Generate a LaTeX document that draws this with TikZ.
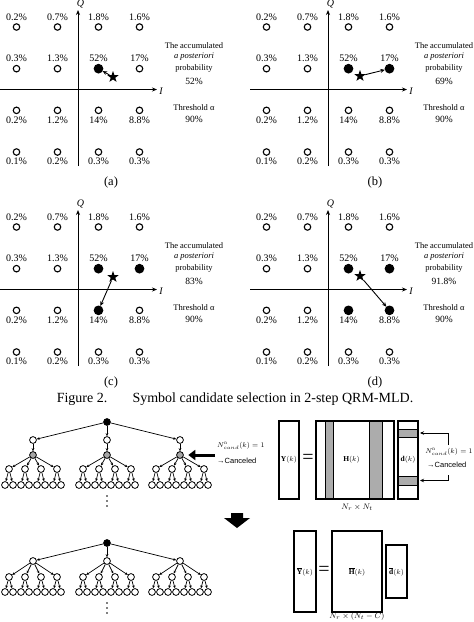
\documentclass[tikz,border=0pt]{standalone}
\usepackage{fontspec}
\setmainfont{Liberation Serif}
\newfontfamily\sansf{Liberation Sans}
\usetikzlibrary{shapes.geometric,arrows.meta}
\newcommand{\qampanel}[9]{%
\begin{scope}[shift={(#2,#3)},#7]
 \coordinate (#1-qb) at (78,166);
 \coordinate (#1-qt) at (78,10);
 \draw[axis] (#1-qb) -- (#1-qt);
 \coordinate (#1-il) at (0,89.5);
 \coordinate (#1-ir) at (157,89.5);
 \draw[axis] (#1-il) -- (#1-ir);
 \node[pct,font=\fontsize{10}{12}\selectfont\itshape] (#1-Q) at (80.5,4) {Q};
 \node[pct,font=\fontsize{10}{12}\selectfont\itshape] (#1-I) at (161,91) {I};
 \foreach \r/\c/\t in {1/1/0.2,1/2/0.7,1/3/1.8,1/4/1.6,2/1/0.3,2/2/1.3,2/3/52,2/4/17,3/1/0.2,3/2/1.2,3/3/14,3/4/8.8,4/1/0.1,4/2/0.2,4/3/0.3,4/4/0.3}{
   \pgfmathsetmacro\px{16.5+41*(\c-1)}
   \pgfmathsetmacro\py{27+41.67*(\r-1)}
   \pgfmathsetmacro\ly{\r<3 ? \py-10 : \py+9.5}
   \node[opt,p\r\c/.try] (#1-p\r\c) at (\px,\py) {};
   \node[pct] (#1-l\r\c) at (\px,\ly) {\t\%};
 }
 \node[starnode] (#1-star) at (#8) {};
 \draw[selarr] (#1-star) -- (#1-#9);
 \node[side] (#1-t1) at (194,46) {The accumulated};
 \node[side,font=\fontsize{8.5}{10}\selectfont\itshape] (#1-t2) at (194,57) {a posteriori};
 \node[side] (#1-t3) at (194,68) {probability};
 \node[side,font=\fontsize{9.5}{11}\selectfont] (#1-t4) at (194,81) {#6\%};
 \node[side] (#1-t5) at (194,108) {Threshold α};
 \node[side,font=\fontsize{9.5}{11}\selectfont] (#1-t6) at (194,119) {90\%};
 \node[sub] (#1-cap) at (#5,182) {(#4)};
\end{scope}}
\begin{document}
\begin{tikzpicture}[x=1pt,y=-1pt,
  axis/.style={line width=0.9pt,-{Stealth[length=5pt,width=4pt]}},
  opt/.style={circle,draw,line width=1.1pt,minimum size=6.5pt,inner sep=0pt,fill=white},
  fulldot/.style={fill=black,minimum size=8.5pt},
  pct/.style={inner sep=0pt,font=\fontsize{10}{12}\selectfont},
  side/.style={inner sep=0pt,font=\fontsize{8.5}{10}\selectfont},
  sub/.style={inner sep=0pt,font=\fontsize{12.5}{14}\selectfont},
  starnode/.style={star,star points=5,star point ratio=2.5,fill=black,minimum size=12pt,inner sep=0pt},
  selarr/.style={line width=0.9pt,-{Stealth[length=4.5pt,width=4pt]}},
  tn/.style={circle,draw,line width=0.8pt,minimum size=6.8pt,inner sep=0pt,fill=white},
  tgray/.style={fill=gray!70},
  tblack/.style={fill=black},
  tarr/.style={line width=0.7pt,-{Stealth[length=3pt,width=2.6pt]}},
  mbox/.style={draw,line width=1.6pt,inner sep=0pt},
  mlab/.style={inner sep=0pt,font=\fontsize{7.5}{9}\selectfont},
  grayblk/.style={draw,line width=1pt,fill=gray!65,inner sep=0pt},
  vdot/.style={circle,fill=black,inner sep=0pt,minimum size=1.8pt},
  bracket/.style={line width=0.7pt,-{Stealth[length=4pt,width=3.5pt]}},
 ]
\useasboundingbox (0,0) rectangle (474,622);
\fill[white] (0,0) rectangle (474,622);

\qampanel{a}{0}{0}{a}{111}{52}{p23/.style={fulldot}}{113,77}{p23}
\qampanel{b}{250}{0}{b}{125}{69}{p23/.style={fulldot},p24/.style={fulldot}}{110,76}{p24}
\qampanel{c}{0}{200}{c}{111}{83}{p23/.style={fulldot},p24/.style={fulldot},p33/.style={fulldot}}{113,77}{p33}
\qampanel{d}{250}{200}{d}{125}{91.8}{p23/.style={fulldot},p24/.style={fulldot},p33/.style={fulldot},p34/.style={fulldot}}{110,76}{p34}

\node[inner sep=0pt,font=\fontsize{14}{16}\selectfont] (caption) at (235,399) {Figure 2.\hspace{1.8em}Symbol candidate selection in 2-step QRM-MLD.};

% tree 1
\node[tn,tblack] (t1r) at (107,422) {};
\foreach \g/\gx in {1/33,2/107,3/180}{
  \node[tn] (t1a\g) at (\gx,440) {};
  \draw[tarr] (t1r) -- (t1a\g);
  \node[tn,tgray] (t1b\g) at (\gx,455) {};
  \draw[tarr] (t1a\g) -- (t1b\g);
  \foreach \i/\dx in {1/-24,2/-8,3/8,4/24}{
    \node[tn] (t1c\g\i) at (\gx+\dx,469) {};
    \draw[tarr] (t1b\g) -- (t1c\g\i);
    \foreach \j/\ex in {1/-4,2/4}{
      \node[tn] (t1d\g\i\j) at (\gx+\dx+\ex,485) {};
      \draw[tarr] (t1c\g\i) -- (t1d\g\i\j);
    }
  }
}
\foreach \k/\yy in {1/496,2/501,3/506}{\node[vdot] (vd1\k) at (107,\yy) {};}

% tree 2
\node[tn,tblack] (t2r) at (107,543) {};
\foreach \g/\gx in {1/33,2/107,3/180}{
  \node[tn] (t2a\g) at (\gx,561) {};
  \draw[tarr] (t2r) -- (t2a\g);
  \foreach \i/\dx in {1/-24,2/-8,3/8,4/24}{
    \node[tn] (t2c\g\i) at (\gx+\dx,577) {};
    \draw[tarr] (t2a\g) -- (t2c\g\i);
    \foreach \j/\ex in {1/-4,2/4}{
      \node[tn] (t2d\g\i\j) at (\gx+\dx+\ex,592) {};
      \draw[tarr] (t2c\g\i) -- (t2d\g\i\j);
    }
  }
}
\foreach \k/\yy in {1/603,2/608,3/613}{\node[vdot] (vd2\k) at (107,\yy) {};}

% thick arrow into gray node
\coordinate (bigA) at (215,455);
\draw[line width=3pt,-{Triangle[length=7pt,width=10pt]},shorten >=4.5pt] (bigA) -- (t1b3);
\node[anchor=west,inner sep=0pt,font=\fontsize{7}{8}\selectfont] (ann1) at (217,446) {$N^{\mathrm{n}}_{cand}(k)=1$};
\node[anchor=west,inner sep=0pt,font=\sansf\fontsize{7.5}{9}\selectfont] (ann2) at (217,460.5) {→Canceled};

% top matrix equation
\node[mbox,minimum width=20pt,minimum height=78pt] (Ybox) at (289,460) {};
\node[mlab] (Ylab) at (289,460) {$\mathbf{Y}(k)$};
\node[inner sep=0pt,font=\fontsize{20}{20}\selectfont] (eq1) at (308,459) {=};
\node[grayblk,minimum width=8pt,minimum height=78pt] (Hg1) at (329,460) {};
\node[grayblk,minimum width=13pt,minimum height=78pt] (Hg2) at (375.5,460) {};
\node[mbox,minimum width=78pt,minimum height=78pt] (Hbox) at (355,460) {};
\node[mlab] (Hlab) at (351.5,460) {$\mathbf{H}(k)$};
\node[grayblk,minimum width=20pt,minimum height=8pt] (dg1) at (408,433) {};
\node[grayblk,minimum width=20pt,minimum height=9pt] (dg2) at (408,480.5) {};
\node[mbox,minimum width=20pt,minimum height=78pt] (dbox) at (408,460) {};
\node[mlab] (dlab) at (408,460) {$\mathbf{d}(k)$};
\coordinate (cA1) at (448,445);
\coordinate (cA3) at (448,475);
\draw[bracket,shorten >=1.5pt] (cA1) |- (dg1.east);
\draw[bracket,shorten >=1.5pt] (cA3) |- (dg2.east);
\node[inner sep=0pt,font=\fontsize{7}{8}\selectfont] (ann3) at (449,452) {$N^{\mathrm{n}}_{cand}(k)=1$};
\node[anchor=west,inner sep=0pt,font=\sansf\fontsize{7.5}{9}\selectfont] (ann4) at (427,465) {→Canceled};
\node[inner sep=0pt,font=\fontsize{8}{9}\selectfont] (dim1) at (357,507) {$N_r\times N_t$};

% down arrow
\fill (231,513) -- (243,513) -- (243,518) -- (250,518) -- (237,528) -- (224,518) -- (231,518) -- cycle;

% bottom matrix equation
\node[mbox,line width=2pt,minimum width=22pt,minimum height=81pt] (Ybbox) at (305,571.5) {};
\node[mlab] (Yblab) at (305,572) {$\overline{\mathbf{Y}}(k)$};
\node[inner sep=0pt,font=\fontsize{20}{20}\selectfont] (eq2) at (324,571) {=};
\node[mbox,line width=2pt,minimum width=50pt,minimum height=81pt] (Hbbox) at (357,571.5) {};
\node[mlab] (Hblab) at (357,572) {$\overline{\mathbf{H}}(k)$};
\node[mbox,line width=2pt,minimum width=21pt,minimum height=53pt] (dbbox) at (396.5,571.5) {};
\node[mlab] (dblab) at (396.5,572) {$\overline{\mathbf{d}}(k)$};
\node[inner sep=0pt,font=\fontsize{8}{9}\selectfont] (dim2) at (357,616.5) {$N_r\times(N_t-C)$};
\end{tikzpicture}
\end{document}
